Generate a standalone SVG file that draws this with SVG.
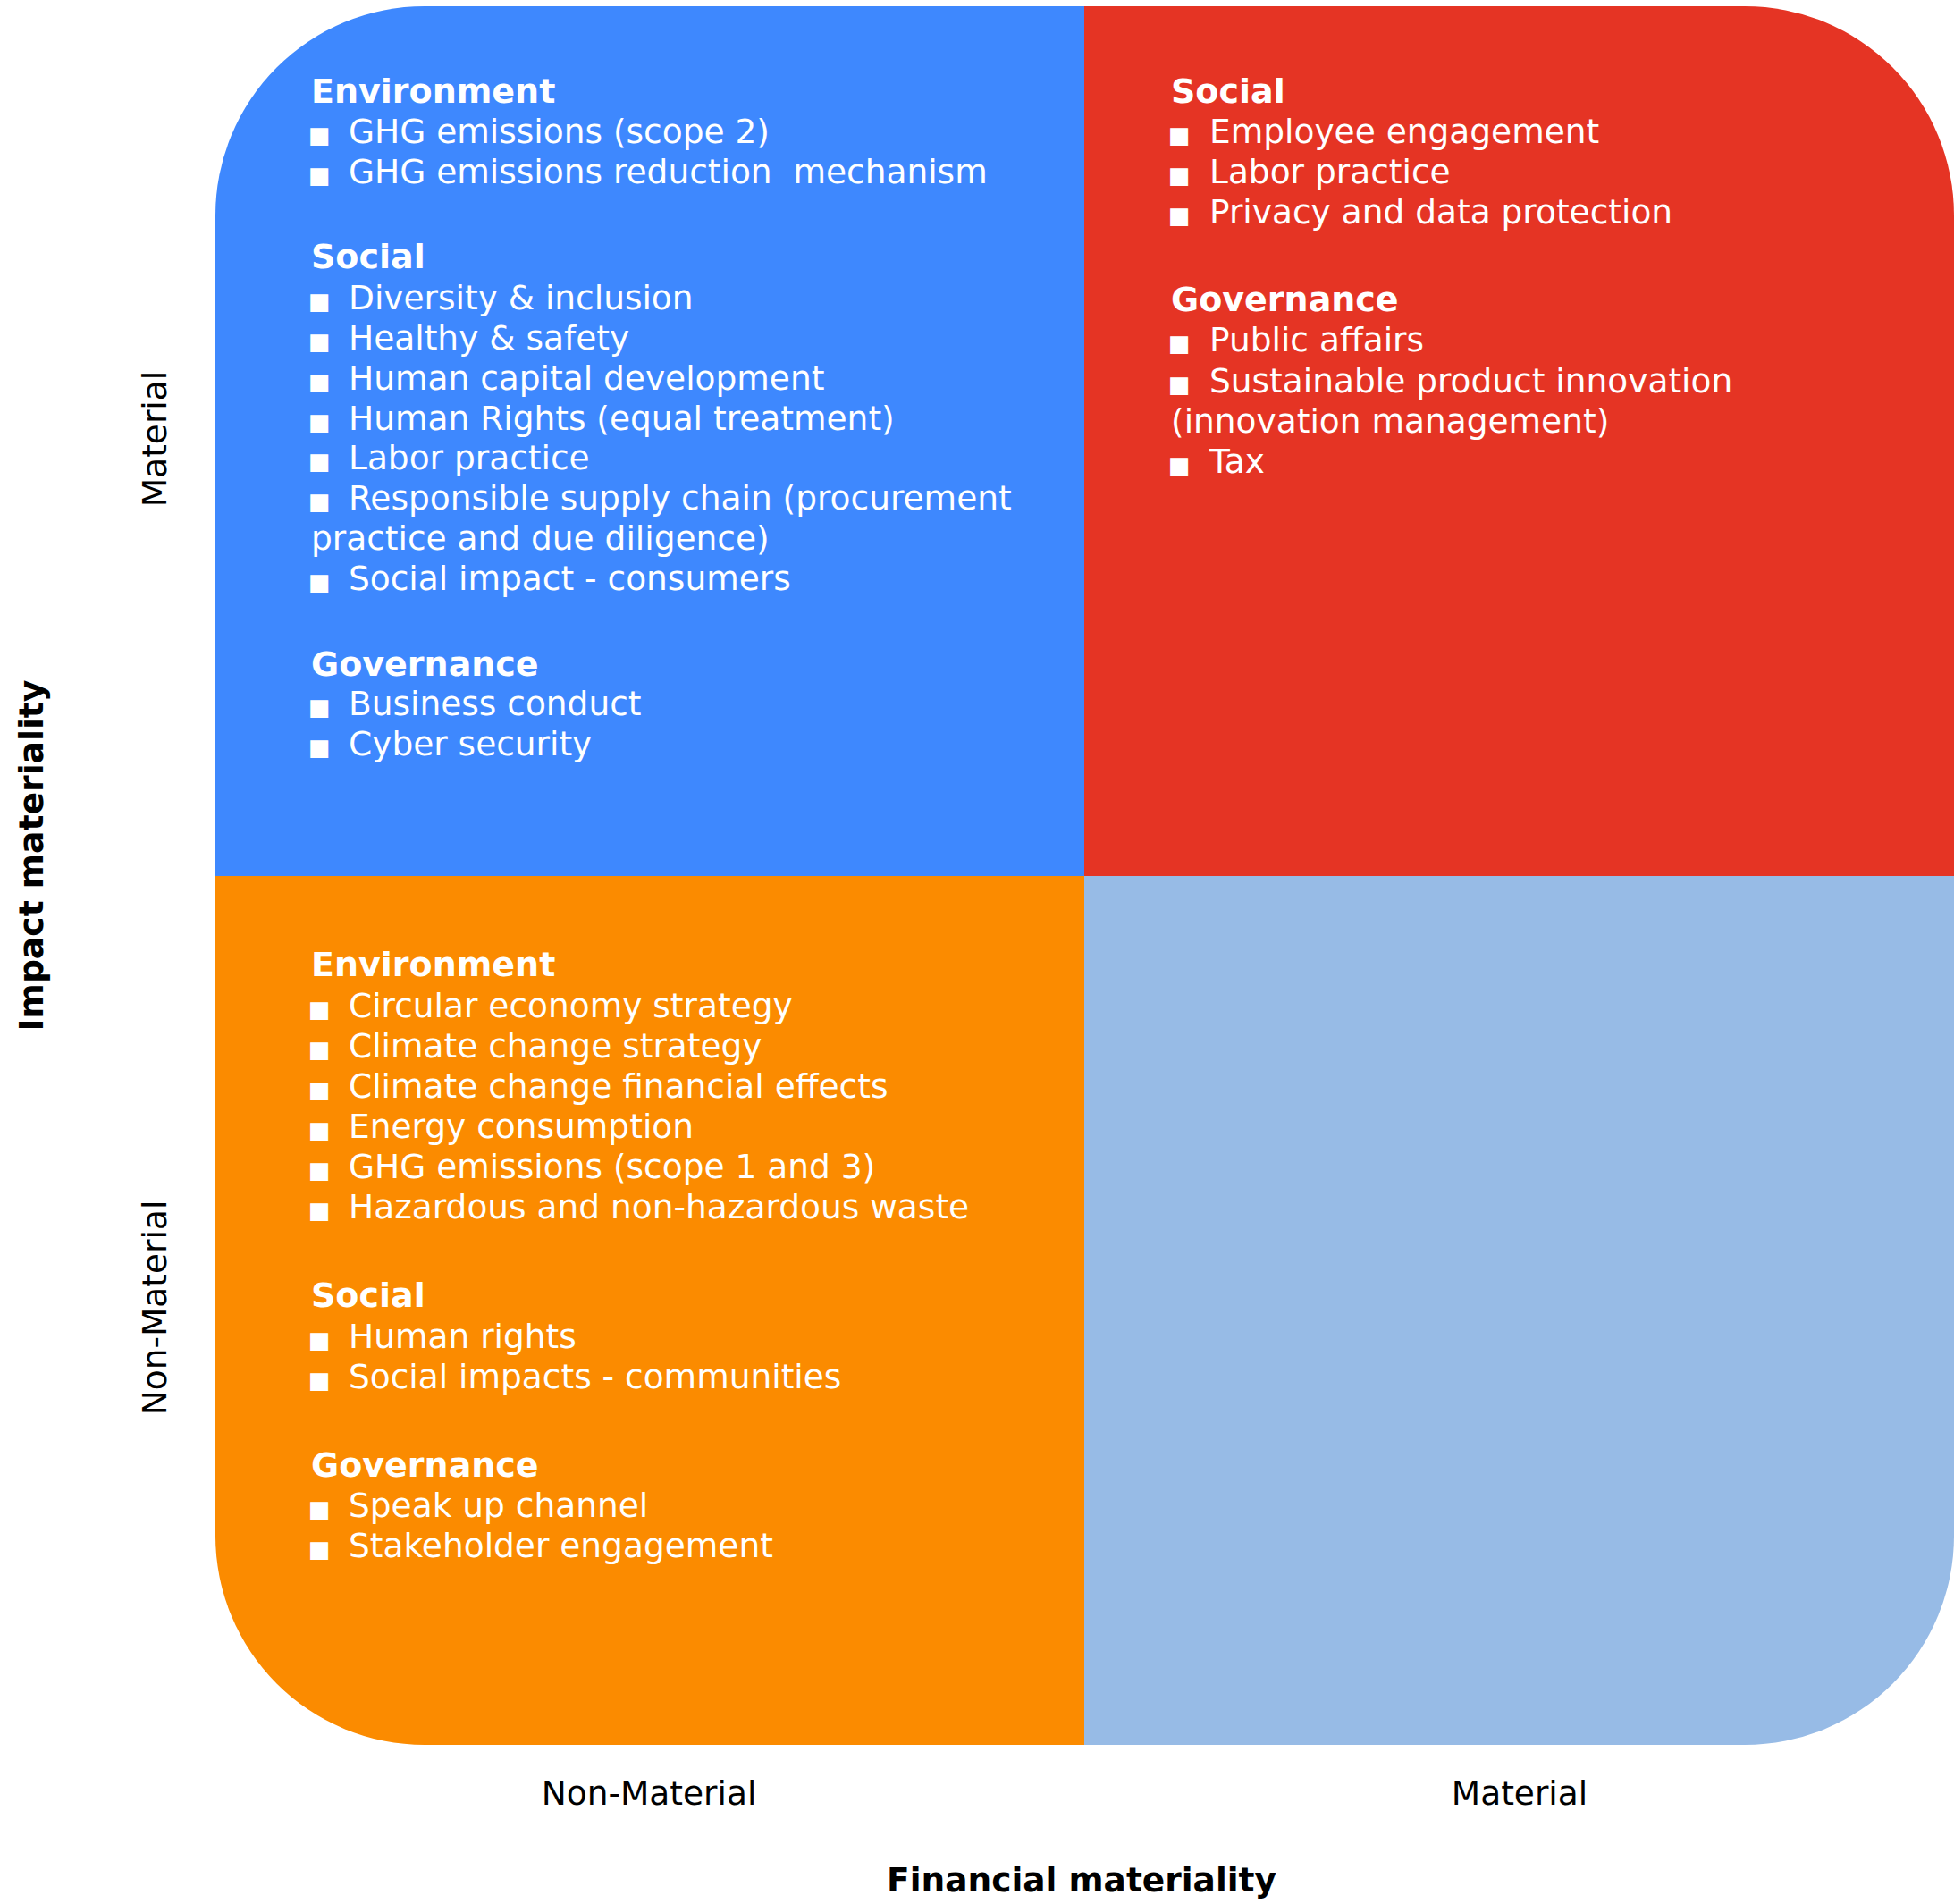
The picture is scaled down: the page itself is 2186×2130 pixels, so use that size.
<svg xmlns="http://www.w3.org/2000/svg" width="2186" height="2130" viewBox="0 0 2186 2130">
<style>
.q text{fill:#fff;font-family:"DejaVu Sans",sans-serif}
.h{font-weight:bold;font-size:38px}
.i{font-size:37.5px}
.b{font-size:26px}
.ax{font-family:"DejaVu Sans",sans-serif;fill:#000;font-size:37.5px}
.axb{font-family:"DejaVu Sans",sans-serif;fill:#000;font-weight:bold}
</style>
<rect width="2186" height="2130" fill="#fff"/>
<g id="q-top-left" class="q">
<path d="M241,980 V241 A234,234 0 0 1 475,7 H1213 V980 Z" fill="#3E88FE"/>
<text class="h" x="348" y="115">Environment</text>
<text class="i" y="160"><tspan class="b" x="345">■</tspan><tspan x="390">GHG emissions (scope 2)</tspan></text>
<text class="i" y="205" xml:space="preserve"><tspan class="b" x="345">■</tspan><tspan x="390">GHG emissions reduction  mechanism</tspan></text>
<text class="h" x="348" y="300">Social</text>
<text class="i" y="346"><tspan class="b" x="345">■</tspan><tspan x="390">Diversity &amp; inclusion</tspan></text>
<text class="i" y="391"><tspan class="b" x="345">■</tspan><tspan x="390">Healthy &amp; safety</tspan></text>
<text class="i" y="436"><tspan class="b" x="345">■</tspan><tspan x="390">Human capital development</tspan></text>
<text class="i" y="481"><tspan class="b" x="345">■</tspan><tspan x="390">Human Rights (equal treatment)</tspan></text>
<text class="i" y="525"><tspan class="b" x="345">■</tspan><tspan x="390">Labor practice</tspan></text>
<text class="i" y="570"><tspan class="b" x="345">■</tspan><tspan x="390">Responsible supply chain (procurement</tspan></text>
<text class="i" x="348" y="615">practice and due diligence)</text>
<text class="i" y="660"><tspan class="b" x="345">■</tspan><tspan x="390">Social impact - consumers</tspan></text>
<text class="h" x="348" y="756">Governance</text>
<text class="i" y="800"><tspan class="b" x="345">■</tspan><tspan x="390">Business conduct</tspan></text>
<text class="i" y="845"><tspan class="b" x="345">■</tspan><tspan x="390">Cyber security</tspan></text>
</g>
<g id="q-top-right" class="q">
<path d="M1213,7 H1952 A234,234 0 0 1 2186,241 V980 H1213 Z" fill="#E53424"/>
<text class="h" x="1310" y="115">Social</text>
<text class="i" y="160"><tspan class="b" x="1307">■</tspan><tspan x="1353">Employee engagement</tspan></text>
<text class="i" y="205"><tspan class="b" x="1307">■</tspan><tspan x="1353">Labor practice</tspan></text>
<text class="i" y="250"><tspan class="b" x="1307">■</tspan><tspan x="1353">Privacy and data protection</tspan></text>
<text class="h" x="1310" y="348">Governance</text>
<text class="i" y="393"><tspan class="b" x="1307">■</tspan><tspan x="1353">Public affairs</tspan></text>
<text class="i" y="439"><tspan class="b" x="1307">■</tspan><tspan x="1353">Sustainable product innovation</tspan></text>
<text class="i" x="1310" y="484">(innovation management)</text>
<text class="i" y="529"><tspan class="b" x="1307">■</tspan><tspan x="1353">Tax</tspan></text>
</g>
<g id="q-bottom-left" class="q">
<path d="M241,980 H1213 V1952 H475 A234,234 0 0 1 241,1718 Z" fill="#FB8B00"/>
<text class="h" x="348" y="1092">Environment</text>
<text class="i" y="1138"><tspan class="b" x="345">■</tspan><tspan x="390">Circular economy strategy</tspan></text>
<text class="i" y="1183"><tspan class="b" x="345">■</tspan><tspan x="390">Climate change strategy</tspan></text>
<text class="i" y="1228"><tspan class="b" x="345">■</tspan><tspan x="390">Climate change financial effects</tspan></text>
<text class="i" y="1273"><tspan class="b" x="345">■</tspan><tspan x="390">Energy consumption</tspan></text>
<text class="i" y="1318"><tspan class="b" x="345">■</tspan><tspan x="390">GHG emissions (scope 1 and 3)</tspan></text>
<text class="i" y="1363"><tspan class="b" x="345">■</tspan><tspan x="390">Hazardous and non-hazardous waste</tspan></text>
<text class="h" x="348" y="1462">Social</text>
<text class="i" y="1508"><tspan class="b" x="345">■</tspan><tspan x="390">Human rights</tspan></text>
<text class="i" y="1553"><tspan class="b" x="345">■</tspan><tspan x="390">Social impacts - communities</tspan></text>
<text class="h" x="348" y="1652">Governance</text>
<text class="i" y="1697"><tspan class="b" x="345">■</tspan><tspan x="390">Speak up channel</tspan></text>
<text class="i" y="1742"><tspan class="b" x="345">■</tspan><tspan x="390">Stakeholder engagement</tspan></text>
</g>
<g id="q-bottom-right">
<path d="M1213,980 H2186 V1718 A234,234 0 0 1 1952,1952 H1213 Z" fill="#97BBE6"/>
</g>
<g id="axes">
<text class="ax" text-anchor="middle" transform="translate(186,491) rotate(-90)">Material</text>
<text class="ax" text-anchor="middle" transform="translate(186,1463) rotate(-90)">Non-Material</text>
<text class="axb" font-size="37.7" text-anchor="middle" transform="translate(48,957) rotate(-90)">Impact materiality</text>
<text class="ax" text-anchor="middle" x="726" y="2019">Non-Material</text>
<text class="ax" text-anchor="middle" x="1700" y="2019">Material</text>
<text class="axb" font-size="37.5" text-anchor="middle" x="1210" y="2116">Financial materiality</text>
</g>
<g id="connectors"/>
</svg>
